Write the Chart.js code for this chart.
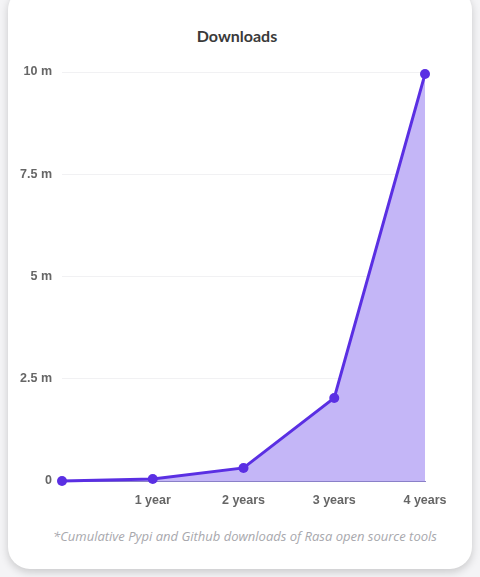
<!DOCTYPE html>
<html>
<head>
<meta charset="utf-8">
<script src="https://cdn.jsdelivr.net/npm/chart.js@4"></script>
<style>
  body { margin: 0; background: #f4f4f6; width: 480px; height: 577px; overflow: hidden; position: relative; }
  .card { position: absolute; left: 8px; top: -12px; width: 464px; height: 581px; background: #fff;
          border-radius: 22px; box-shadow: 0 3px 8px rgba(0,0,0,0.18); }
  .title { position: absolute; left: 0; width: 474px; top: 26px; text-align: center;
           font-family: Lato, sans-serif; font-weight: bold; font-size: 16px; color: #3a3a3a; }
  #wrap { position: absolute; left: 0; top: 0; width: 480px; height: 512px; }
  .note { position: absolute; left: 0; width: 490px; top: 527px; text-align: center;
          font-family: "Open Sans", sans-serif; font-style: italic; font-size: 13px; color: #a8a8ad; }
</style>
</head>
<body>
<div class="card"></div>
<div class="title">Downloads</div>
<div id="wrap"><canvas id="c"></canvas></div>
<div class="note">*Cumulative Pypi and Github downloads of Rasa open source tools</div>
<script>
const labels = ['', '1 year', '2 years', '3 years', '4 years'];
const downloads = [0, 0.05, 0.32, 2.03, 9.95]; // millions
const yTicks = [0, 2.5, 5, 7.5, 10];

new Chart(document.getElementById('c'), {
  type: 'line',
  data: {
    labels: labels,
    datasets: [{
      data: downloads,
      borderColor: '#5a2fe3',
      backgroundColor: 'rgba(196,182,247,1)',
      fill: true,
      clip: false,
      borderWidth: 3,
      pointRadius: 5,
      pointBackgroundColor: '#5a2fe3',
      pointBorderWidth: 0,
      tension: 0
    }]
  },
  options: {
    responsive: true,
    maintainAspectRatio: false,
    animation: false,
    layout: { padding: { left: 0, right: 55, top: 72, bottom: 0 } },
    plugins: { legend: { display: false }, tooltip: { enabled: false } },
    scales: {
      x: {
        offset: false,
        grid: { display: false },
        border: { color: '#8a80c8', width: 1 },
        ticks: { color: '#666', font: { family: 'Liberation Sans', size: 12.5, weight: 'bold' }, padding: 4, maxRotation: 0 }
      },
      y: {
        min: 0, max: 10,
        afterBuildTicks: s => { s.ticks = yTicks.map(v => ({ value: v })); },
        afterFit: s => { s.width = 62; },
        grid: { color: '#f1f1f3', drawTicks: false },
        border: { display: false },
        ticks: {
          color: '#666', padding: 10,
          font: { family: 'Liberation Sans', size: 12.5, weight: 'bold' },
          callback: v => v === 0 ? '0' : v + ' m'
        }
      }
    }
  }
});
</script>
</body>
</html>
